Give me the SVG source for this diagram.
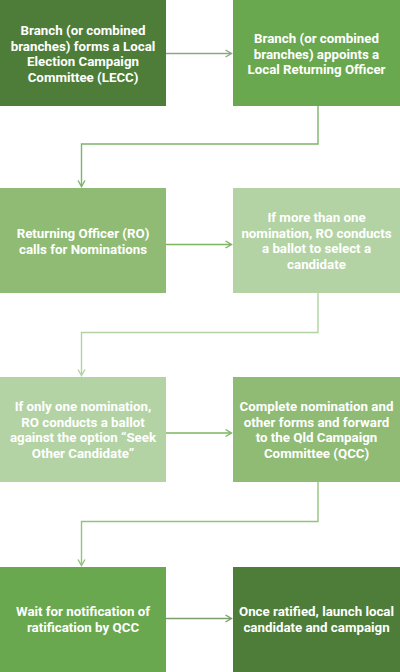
<svg xmlns="http://www.w3.org/2000/svg" width="400" height="672" viewBox="0 0 400 672">
<style>
text{font-family:Roboto,"Liberation Sans",sans-serif;font-weight:700;font-size:13.3px;fill:#ffffff;text-anchor:middle}
.c{fill:none;stroke-width:1.4}
.d{fill:#4e7d39}.m{fill:#6aa84f}.l{fill:#8fbb74}.p{fill:#b3d3a4}
</style>
<rect width="400" height="672" fill="#ffffff"/>
<g id="connectors">
<g stroke="#8ca882" class="c"><path d="M166 53.5H231"/><path d="M225.5 50L231.5 53.5L225.5 57"/></g>
<g stroke="#7db36a" class="c"><path d="M318 106V144H81.5V186"/><path d="M78 180.5L81.5 186.5L85 180.5"/></g>
<g stroke="#7ab55f" class="c"><path d="M166 244.5H231"/><path d="M225.5 241L231.5 244.5L225.5 248"/></g>
<g stroke="#b3d3a4" class="c"><path d="M318 293V332.5H81.5V375"/><path d="M78 369.5L81.5 375.5L85 369.5"/></g>
<g stroke="#7ab55f" class="c"><path d="M166 433H231"/><path d="M225.5 429.5L231.5 433L225.5 436.5"/></g>
<g stroke="#93c47d" class="c"><path d="M318 482V521.5H81.5V565"/><path d="M78 559.5L81.5 565.5L85 559.5"/></g>
<g stroke="#7a9f6c" class="c"><path d="M166 618.5H231"/><path d="M225.5 615L231.5 618.5L225.5 622"/></g>
</g>
<g id="n1"><rect class="d" x="0" y="0" width="166" height="106"/>
<text x="83" y="35.4">Branch (or combined</text><text x="83" y="50.9">branches) forms a Local</text><text x="83" y="66.4">Election Campaign</text><text x="83" y="81.9">Committee (LECC)</text></g>
<g id="n2"><rect class="m" x="233" y="0" width="167" height="106"/>
<text x="316.5" y="43">Branch (or combined</text><text x="316.5" y="58.5">branches) appoints a</text><text x="316.5" y="74">Local Returning Officer</text></g>
<g id="n3"><rect class="l" x="0" y="188" width="166" height="105"/>
<text x="83" y="238">Returning Officer (RO)</text><text x="83" y="253.5">calls for Nominations</text></g>
<g id="n4"><rect class="p" x="233" y="188" width="167" height="105"/>
<text x="316.5" y="222.4">If more than one</text><text x="316.5" y="237.9">nomination, RO conducts</text><text x="316.5" y="253.4">a ballot to select a</text><text x="316.5" y="268.9">candidate</text></g>
<g id="n5"><rect class="p" x="0" y="377" width="166" height="105"/>
<text x="83" y="411.4">If only one nomination,</text><text x="83" y="426.9">RO conducts a ballot</text><text x="83" y="442.4">against the option “Seek</text><text x="83" y="457.9">Other Candidate”</text></g>
<g id="n6"><rect class="l" x="233" y="377" width="167" height="105"/>
<text x="316.5" y="411.4">Complete nomination and</text><text x="316.5" y="426.9">other forms and forward</text><text x="316.5" y="442.4">to the Qld Campaign</text><text x="316.5" y="457.9">Committee (QCC)</text></g>
<g id="n7"><rect class="m" x="0" y="567" width="166" height="105"/>
<text x="83" y="616.4">Wait for notification of</text><text x="83" y="631.9">ratification by QCC</text></g>
<g id="n8"><rect class="d" x="233" y="567" width="167" height="105"/>
<text x="316.5" y="616.4">Once ratified, launch local</text><text x="316.5" y="631.9">candidate and campaign</text></g>
</svg>
